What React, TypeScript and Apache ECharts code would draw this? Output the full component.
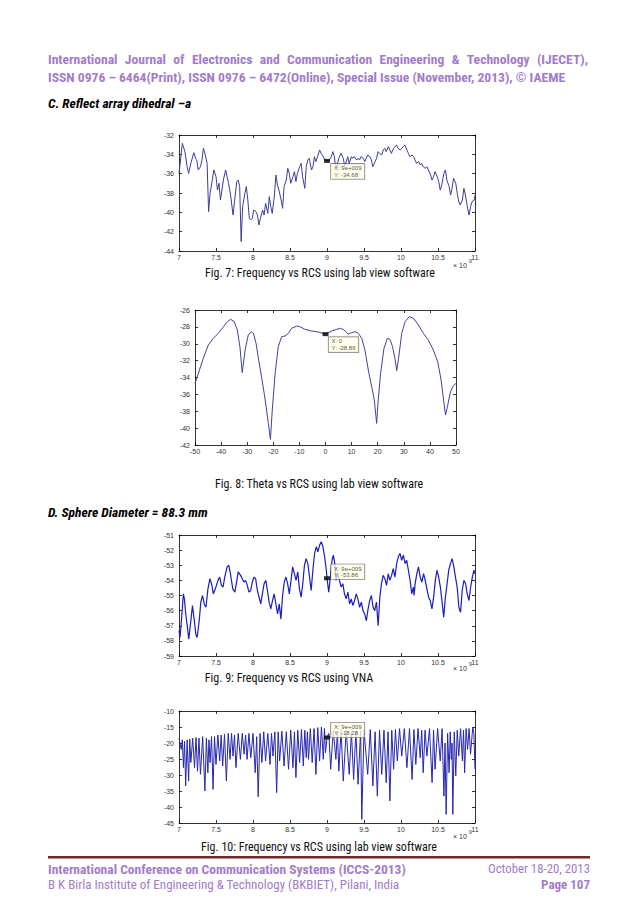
import React, { useEffect, useRef } from "react";
import * as echarts from "echarts";

// ---------- Fig. 7: Frequency vs RCS (lab view) ----------
const freq7 = [7.0, 7.045, 7.08, 7.11, 7.13, 7.16, 7.2, 7.23, 7.24, 7.26, 7.29, 7.31, 7.33, 7.35, 7.38, 7.4, 7.42, 7.45, 7.47, 7.5, 7.52, 7.54, 7.56, 7.58, 7.6, 7.63, 7.65, 7.67, 7.7, 7.73, 7.75, 7.78, 7.8, 7.82, 7.84, 7.86, 7.89, 7.91, 7.93, 7.95, 7.97, 7.99, 8.01, 8.04, 8.06, 8.08, 8.1, 8.13, 8.15, 8.17, 8.2, 8.22, 8.24, 8.26, 8.29, 8.31, 8.33, 8.35, 8.38, 8.4, 8.42, 8.45, 8.47, 8.49, 8.51, 8.54, 8.56, 8.58, 8.6, 8.63, 8.65, 8.67, 8.7, 8.72, 8.74, 8.76, 8.79, 8.81, 8.83, 8.85, 8.88, 8.9, 8.92, 8.95, 8.97, 9.0, 9.03, 9.05, 9.08, 9.1, 9.11, 9.13, 9.16, 9.19, 9.22, 9.24, 9.26, 9.28, 9.3, 9.33, 9.35, 9.37, 9.4, 9.42, 9.44, 9.46, 9.49, 9.51, 9.53, 9.55, 9.58, 9.6, 9.62, 9.65, 9.67, 9.69, 9.71, 9.74, 9.76, 9.78, 9.8, 9.83, 9.85, 9.87, 9.9, 9.92, 9.94, 9.96, 9.99, 10.01, 10.03, 10.05, 10.08, 10.1, 10.12, 10.15, 10.17, 10.19, 10.21, 10.24, 10.26, 10.28, 10.3, 10.33, 10.35, 10.37, 10.4, 10.42, 10.44, 10.46, 10.49, 10.51, 10.53, 10.55, 10.58, 10.6, 10.62, 10.65, 10.67, 10.69, 10.71, 10.74, 10.76, 10.78, 10.8, 10.83, 10.85, 10.87, 10.9, 10.92, 10.94, 10.96, 10.99, 11.0];
const rcs7 = [-36.0, -32.86, -33.72, -35.28, -35.97, -34.93, -33.83, -34.52, -34.59, -35.62, -35.28, -34.59, -33.38, -33.9, -34.93, -39.93, -38.03, -36.66, -35.62, -36.31, -37.69, -37.0, -38.72, -37.69, -36.66, -35.62, -36.31, -37.0, -38.38, -40.28, -38.9, -36.83, -36.66, -37.34, -43.03, -39.41, -38.03, -37.34, -38.72, -40.62, -40.79, -40.62, -39.76, -39.93, -40.28, -41.31, -40.62, -39.76, -40.28, -39.07, -40.1, -38.38, -39.41, -40.1, -38.21, -36.14, -37.17, -37.69, -38.72, -39.59, -37.34, -36.66, -35.45, -35.97, -37.0, -36.31, -35.79, -36.83, -35.97, -35.28, -34.93, -36.31, -37.52, -35.28, -34.59, -34.41, -35.62, -35.28, -34.24, -34.76, -34.07, -33.55, -33.9, -34.24, -34.59, -34.68, -34.59, -34.41, -33.72, -34.24, -34.93, -35.28, -34.41, -33.9, -34.41, -35.28, -34.76, -34.24, -34.93, -34.24, -34.41, -34.24, -34.59, -34.41, -34.59, -34.24, -34.41, -34.76, -34.41, -34.07, -34.24, -34.59, -35.28, -34.76, -34.41, -33.72, -33.9, -34.07, -33.55, -33.38, -33.72, -33.21, -33.55, -33.9, -33.38, -33.21, -33.03, -33.38, -33.55, -33.38, -33.21, -33.03, -33.55, -33.9, -34.24, -34.07, -34.24, -34.59, -34.93, -34.76, -35.1, -34.93, -35.28, -35.45, -35.28, -35.62, -36.14, -36.66, -36.31, -35.79, -36.31, -36.83, -37.69, -37.17, -35.97, -35.62, -36.66, -37.34, -38.21, -37.52, -36.48, -37.0, -38.03, -38.9, -39.24, -38.72, -37.52, -38.21, -39.59, -40.28, -39.41, -38.9, -38.72, -38.21];

// ---------- Fig. 8: Theta vs RCS (lab view) ----------
const theta8 = [-50, -48.7, -46.8, -44.9, -43.0, -41.1, -39.1, -37.6, -36.3, -35.0, -33.8, -32.8, -31.9, -30.8, -29.6, -28.5, -27.6, -26.6, -25.6, -24.3, -23.1, -21.9, -21.1, -20.4, -19.3, -18.1, -16.8, -15.5, -14.2, -13.0, -11.0, -9.8, -7.9, -5.3, -2.7, 0, 2.4, 4.3, 5.8, 7.1, 8.7, 10.0, 11.3, 12.6, 13.9, 15.1, 16.4, 17.7, 18.7, 19.6, 20.2, 21.1, 22.4, 23.7, 24.7, 25.7, 26.6, 27.3, 28.0, 29.2, 30.5, 32.1, 33.7, 35.6, 37.5, 39.4, 41.3, 43.0, 44.3, 45.4, 46.0, 46.7, 47.9, 48.9, 50];
const rcs8 = [-34.7, -33.5, -31.7, -30.15, -29.36, -28.77, -27.98, -27.38, -27.11, -27.38, -28.37, -30.35, -33.43, -30.74, -28.96, -28.57, -28.77, -29.95, -31.93, -34.3, -36.67, -39.44, -41.34, -37.86, -33.51, -30.35, -29.16, -29.08, -28.77, -28.17, -27.9, -27.98, -28.29, -28.49, -28.61, -28.86, -28.49, -28.29, -28.17, -28.37, -28.85, -28.69, -28.57, -28.77, -29.36, -30.74, -33.11, -35.09, -36.67, -39.44, -36.67, -33.51, -30.55, -29.36, -29.48, -30.35, -31.73, -33.19, -31.73, -28.77, -27.38, -26.79, -26.99, -27.78, -28.77, -29.56, -30.74, -32.13, -34.3, -37.07, -38.45, -37.46, -35.68, -35.01, -34.7];

// ---------- Fig. 9: Frequency vs RCS (VNA) ----------
const freq9 = [7.0, 7.014, 7.036, 7.059, 7.073, 7.091, 7.114, 7.132, 7.155, 7.182, 7.205, 7.227, 7.245, 7.273, 7.295, 7.318, 7.341, 7.364, 7.391, 7.418, 7.445, 7.464, 7.491, 7.527, 7.55, 7.573, 7.595, 7.618, 7.65, 7.673, 7.695, 7.727, 7.755, 7.782, 7.8, 7.832, 7.855, 7.877, 7.9, 7.923, 7.945, 7.968, 7.991, 8.014, 8.036, 8.059, 8.082, 8.105, 8.127, 8.15, 8.173, 8.195, 8.218, 8.241, 8.264, 8.286, 8.309, 8.332, 8.355, 8.377, 8.4, 8.423, 8.445, 8.468, 8.491, 8.514, 8.536, 8.559, 8.582, 8.605, 8.627, 8.65, 8.673, 8.695, 8.718, 8.741, 8.764, 8.786, 8.809, 8.832, 8.855, 8.877, 8.9, 8.923, 8.945, 8.968, 8.991, 9.0, 9.023, 9.041, 9.068, 9.086, 9.105, 9.123, 9.145, 9.168, 9.191, 9.214, 9.236, 9.259, 9.282, 9.305, 9.327, 9.35, 9.373, 9.395, 9.418, 9.441, 9.464, 9.486, 9.509, 9.532, 9.555, 9.577, 9.6, 9.623, 9.645, 9.668, 9.691, 9.714, 9.736, 9.759, 9.782, 9.805, 9.827, 9.85, 9.873, 9.895, 9.918, 9.941, 9.964, 9.986, 10.009, 10.032, 10.055, 10.077, 10.1, 10.123, 10.145, 10.168, 10.177, 10.191, 10.214, 10.236, 10.259, 10.282, 10.305, 10.327, 10.35, 10.373, 10.395, 10.418, 10.441, 10.464, 10.486, 10.509, 10.532, 10.555, 10.577, 10.6, 10.623, 10.645, 10.668, 10.691, 10.714, 10.736, 10.759, 10.782, 10.805, 10.827, 10.85, 10.873, 10.895, 10.918, 10.941, 10.964, 10.986, 11.0];
const rcs9 = [-57.33, -57.78, -56.44, -54.89, -55.22, -56.22, -57.11, -57.89, -56.89, -55.67, -56.56, -57.56, -57.78, -56.67, -55.44, -55.0, -55.56, -55.78, -54.56, -53.89, -54.33, -54.89, -54.56, -54.0, -53.78, -54.33, -54.44, -53.78, -53.11, -53.0, -53.56, -54.56, -54.78, -54.0, -53.44, -53.67, -53.89, -54.11, -54.0, -54.33, -54.78, -54.67, -54.11, -53.78, -53.89, -54.67, -55.11, -55.56, -54.89, -54.22, -54.0, -54.67, -55.44, -55.89, -55.33, -54.89, -55.56, -56.22, -55.56, -56.56, -55.0, -54.11, -53.78, -54.22, -54.89, -54.0, -53.11, -53.56, -54.0, -53.44, -54.56, -55.11, -54.22, -53.0, -52.56, -52.89, -53.78, -54.67, -53.33, -52.22, -51.78, -52.11, -51.67, -51.44, -51.78, -52.44, -53.33, -53.86, -54.78, -54.0, -52.67, -52.33, -52.89, -54.0, -53.56, -54.0, -54.44, -54.22, -54.89, -55.22, -54.78, -55.56, -55.22, -55.67, -55.33, -54.89, -55.22, -55.78, -55.44, -56.0, -56.22, -56.67, -55.89, -55.33, -55.0, -55.78, -56.0, -55.44, -57.0, -55.11, -54.22, -53.67, -53.89, -54.33, -53.56, -54.0, -53.67, -53.22, -53.78, -52.89, -52.44, -52.22, -52.67, -52.33, -52.89, -52.67, -53.33, -54.0, -54.89, -54.44, -55.0, -54.22, -53.56, -53.11, -53.78, -54.11, -53.56, -54.0, -54.56, -55.11, -55.33, -55.89, -55.11, -54.0, -53.33, -53.78, -54.44, -55.44, -56.44, -55.11, -54.22, -53.33, -52.89, -52.56, -53.11, -53.78, -54.44, -55.78, -56.11, -54.67, -54.0, -54.22, -54.89, -55.33, -54.44, -53.78, -53.33, -53.56];

// ---------- Fig. 10: Frequency vs RCS (lab view) ----------
const freq10 = [7.0, 7.03, 7.045, 7.06, 7.075, 7.09, 7.11, 7.13, 7.145, 7.16, 7.185, 7.21, 7.23, 7.25, 7.27, 7.29, 7.32, 7.35, 7.37, 7.39, 7.405, 7.42, 7.44, 7.46, 7.48, 7.5, 7.525, 7.55, 7.57, 7.59, 7.615, 7.64, 7.665, 7.69, 7.71, 7.73, 7.75, 7.77, 7.8, 7.83, 7.855, 7.88, 7.9, 7.92, 7.945, 7.97, 8.0, 8.03, 8.05, 8.07, 8.095, 8.12, 8.145, 8.17, 8.2, 8.23, 8.25, 8.27, 8.295, 8.32, 8.34, 8.36, 8.39, 8.42, 8.45, 8.48, 8.51, 8.54, 8.56, 8.58, 8.605, 8.63, 8.655, 8.68, 8.7, 8.72, 8.735, 8.75, 8.775, 8.8, 8.825, 8.85, 8.875, 8.9, 8.925, 8.95, 8.965, 8.98, 9.0, 9.025, 9.05, 9.085, 9.12, 9.14, 9.16, 9.19, 9.22, 9.26, 9.3, 9.33, 9.36, 9.39, 9.42, 9.455, 9.47, 9.5, 9.55, 9.585, 9.62, 9.65, 9.68, 9.71, 9.74, 9.77, 9.8, 9.825, 9.85, 9.875, 9.9, 9.925, 9.95, 9.98, 10.01, 10.045, 10.08, 10.115, 10.15, 10.175, 10.2, 10.23, 10.26, 10.28, 10.3, 10.325, 10.35, 10.385, 10.42, 10.44, 10.46, 10.495, 10.53, 10.555, 10.58, 10.595, 10.61, 10.63, 10.65, 10.665, 10.68, 10.69, 10.7, 10.72, 10.74, 10.76, 10.78, 10.805, 10.83, 10.845, 10.86, 10.88, 10.9, 10.92, 10.94, 10.97, 10.985, 11.0];
const rcs10 = [-18.5, -22, -19, -27.7, -19.5, -33.4, -19, -31.9, -18.8, -26.1, -18.5, -27.7, -18.3, -28.8, -18.5, -29.8, -18, -35, -18.5, -29.3, -19, -26.1, -18, -34.5, -18, -26.7, -17.5, -25.6, -17.5, -27.2, -17.3, -31.9, -17, -25.1, -17, -24.1, -17.5, -27.7, -17, -25.1, -17, -23.5, -17.5, -25.1, -17, -24.6, -17, -29.3, -18, -36.8, -17, -26.1, -16.5, -25.6, -17, -26.7, -17, -24.1, -16.5, -35.5, -16.5, -25.6, -16.3, -27.2, -16.5, -28.2, -16, -27.7, -16.5, -30.8, -16, -26.1, -15.8, -27.2, -16, -24.6, -16.5, -25.1, -15.5, -26.1, -15.5, -29.8, -15.2, -25.6, -15, -25.1, -15.5, -23, -18.28, -17, -28.2, -16, -25.1, -16.5, -28.8, -16, -31.9, -16, -29.8, -16.5, -31.4, -16.3, -32.9, -16, -43.9, -16, -29.8, -15.8, -33.4, -16.5, -36.6, -16, -29.8, -16, -32.4, -16.5, -38.1, -16, -28.2, -15.8, -25.6, -15.5, -24.1, -15.5, -27.7, -15.5, -31.4, -15.8, -26.7, -15.5, -24.6, -16, -29.3, -16, -24.1, -15.5, -32.4, -16, -28.2, -15.5, -25.6, -15.5, -36.6, -20, -42.3, -17, -29.3, -16.5, -25.1, -20, -42.3, -16.5, -30.3, -16, -24.1, -15.5, -25.6, -16, -29.3, -15.5, -22, -15.5, -23.5, -15, -17, -28.2];

// data cursor readouts
const tipX = [9, 0, 9, 9];
const tipY = [-34.68, -28.86, -53.86, -18.28];
const tipXText = ["9e+009", "0", "9e+009", "9e+009"];

// Axis ranges [min, max, interval]
const xRanges = [[7, 11, 0.5], [-50, 50, 10], [7, 11, 0.5], [7, 11, 0.5]];
const yRanges = [[-44, -32, 2], [-42, -26, 2], [-59, -51, 1], [-45, -10, 5]];

const captions = [
  "Fig. 7: Frequency vs RCS using lab view software",
  "Fig. 8: Theta vs RCS using lab view software",
  "Fig. 9: Frequency vs RCS using VNA",
  "Fig. 10: Frequency vs RCS using lab view software",
];
const headerLine1 = "International Journal of Electronics and Communication Engineering & Technology (IJECET),";
const headerLine2 = "ISSN 0976 – 6464(Print), ISSN 0976 – 6472(Online), Special Issue (November, 2013), © IAEME";

const grids = [
  { left: 179, top: 135, width: 296, height: 116 },
  { left: 195, top: 310, width: 261, height: 135 },
  { left: 179, top: 535, width: 296, height: 121 },
  { left: 179, top: 711, width: 296, height: 112 },
];
const lineColors = ["#3c3c9c", "#40409e", "#1c1cc0", "#2626b0"];
const tipPos = [[7, 5], [6, 5], [7, -12], [7, -13]];
const capPos = [[320, 273], [319, 484], [289, 678], [319, 847]];
const expPos = [[453, 265], null, [453, 668], [453, 836]];

const PURPLE = "#a27ccb";
const TXT = "'Liberation Sans Narrow', 'Roboto Condensed', Roboto, sans-serif";
const AX = "'Liberation Sans', Arial, sans-serif";

function pairs(xs: number[], ys: number[]) {
  return xs.map((x, i) => [x, ys[i]]);
}

export default function App() {
  const ref = useRef<HTMLDivElement>(null);
  useEffect(() => {
    if (!ref.current) return;
    const chart = echarts.init(ref.current, undefined, { renderer: "svg" });
    const dataSets = [pairs(freq7, rcs7), pairs(theta8, rcs8), pairs(freq9, rcs9), pairs(freq10, rcs10)];
    const xAxis: any[] = [];
    const yAxis: any[] = [];
    const series: any[] = [];
    grids.forEach((g, i) => {
      const [xmin, xmax, xint] = xRanges[i];
      const [ymin, ymax, yint] = yRanges[i];
      const common = {
        gridIndex: i,
        type: "value",
        axisLine: { show: true, onZero: false, lineStyle: { color: "#000", width: 0.8 } },
        axisTick: { show: true, inside: true, length: 3, lineStyle: { color: "#000", width: 0.8 } },
        splitLine: { show: false },
      };
      xAxis.push({
        ...common, position: "bottom", min: xmin, max: xmax, interval: xint,
        axisLabel: { fontSize: 7, color: "#333", margin: 3, fontFamily: AX },
      });
      xAxis.push({ ...common, position: "top", min: xmin, max: xmax, interval: xint, axisLabel: { show: false } });
      yAxis.push({
        ...common, position: "left", min: ymin, max: ymax, interval: yint,
        axisLabel: { fontSize: 7, color: "#333", margin: 5, fontFamily: AX },
      });
      yAxis.push({ ...common, position: "right", min: ymin, max: ymax, interval: yint, axisLabel: { show: false } });
      series.push({
        type: "line", xAxisIndex: i * 2, yAxisIndex: i * 2, data: dataSets[i],
        showSymbol: false, lineStyle: { color: lineColors[i], width: i === 2 ? 1.2 : 1 },
      });
      series.push({
        type: "scatter", xAxisIndex: i * 2, yAxisIndex: i * 2, data: [[tipX[i], tipY[i]]],
        symbol: "rect", symbolSize: [6, 4], itemStyle: { color: "#000" }, z: 5,
        label: {
          show: true, position: tipPos[i],
          formatter: `X: ${tipXText[i]}\nY: ${tipY[i]}`,
          fontSize: 6, lineHeight: 6.5, color: "#222", fontFamily: AX,
          backgroundColor: "#ffffe6", borderColor: "#444", borderWidth: 0.6, padding: [1, 3, 1, 3],
        },
      });
    });

    // justified first header line
    const hSize = 13.6;
    const ctx = document.createElement("canvas").getContext("2d") as CanvasRenderingContext2D;
    ctx.font = `bold ${hSize}px ${TXT}`;
    const words = headerLine1.split(" ");
    const widths = words.map((w) => ctx.measureText(w).width);
    const total = widths.reduce((a, b) => a + b, 0);
    const gap = (540 - total) / (words.length - 1);
    const graphic: any[] = [];
    let cx = 48;
    words.forEach((w, k) => {
      graphic.push({ type: "text", x: cx, y: 52, style: { text: w, fontSize: hSize, fontWeight: "bold", fill: PURPLE, fontFamily: TXT } });
      cx += widths[k] + gap;
    });

    graphic.push(
      { type: "text", left: 48, top: 70, style: { text: headerLine2, fontSize: hSize, fontWeight: "bold", fill: PURPLE, fontFamily: TXT } },
      { type: "text", left: 48, top: 96, style: { text: "C. Reflect array dihedral –a", fontSize: 13.5, fontWeight: "bold", fontStyle: "italic", fill: "#000", fontFamily: TXT } },
      { type: "text", left: 48, top: 505, style: { text: "D. Sphere Diameter = 88.3 mm", fontSize: 13.5, fontWeight: "bold", fontStyle: "italic", fill: "#000", fontFamily: TXT } },
      { type: "rect", shape: { x: 48, y: 856, width: 542, height: 2.5 }, style: { fill: "#6e2a2a" } },
      { type: "text", left: 48, top: 862, style: { text: "International Conference on Communication Systems (ICCS-2013)", fontSize: 13.5, fontWeight: "bold", fill: PURPLE, fontFamily: TXT } },
      { type: "text", left: 48, top: 878, style: { text: "B K Birla Institute of Engineering & Technology (BKBIET), Pilani, India", fontSize: 13, fill: PURPLE, fontFamily: TXT } },
      { type: "text", x: 590, y: 862, style: { text: "October 18-20, 2013", fontSize: 12.8, fill: PURPLE, fontFamily: TXT, textAlign: "right" } },
      { type: "text", x: 590, y: 878, style: { text: "Page 107", fontSize: 13, fontWeight: "bold", fill: PURPLE, fontFamily: TXT, textAlign: "right" } },
    );
    captions.forEach((c, i) => {
      graphic.push({ type: "text", x: capPos[i][0], y: capPos[i][1], style: { text: c, fontSize: 12, fill: "#111", fontFamily: TXT, textAlign: "center", textVerticalAlign: "middle" } });
      const e = expPos[i];
      if (e) {
        graphic.push({ type: "text", x: e[0], y: e[1], style: { text: "× 10", fontSize: 7, fill: "#333", fontFamily: AX, textVerticalAlign: "middle" } });
        graphic.push({ type: "text", x: e[0] + 16, y: e[1] - 4, style: { text: "9", fontSize: 5, fill: "#333", fontFamily: AX, textVerticalAlign: "middle" } });
      }
    });

    chart.setOption({
      animation: false,
      backgroundColor: "#fff",
      grid: grids.map((g) => ({ ...g, containLabel: false })),
      xAxis, yAxis, series, graphic,
    });
    return () => chart.dispose();
  }, []);
  return <div ref={ref} style={{ position: "absolute", left: 0, top: 0, width: 638, height: 903 }} />;
}
